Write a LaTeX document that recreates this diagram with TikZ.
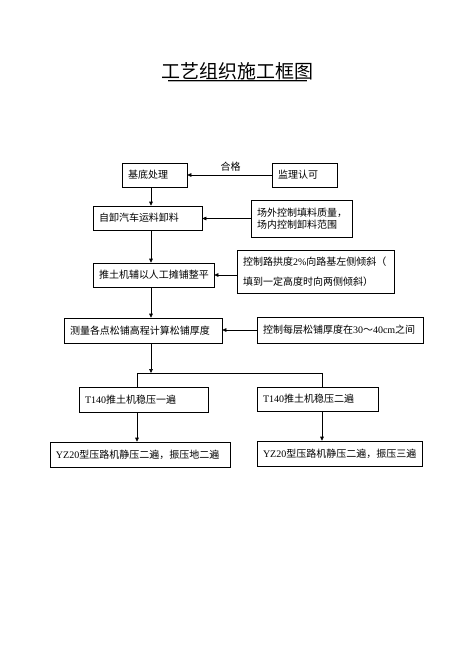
\documentclass[tikz,border=0pt]{standalone}
\usepackage{fontspec}
\setmainfont{Liberation Serif}
\newfontfamily\cjk{Noto Sans CJK SC}
\usetikzlibrary{arrows.meta}
\newcommand\lt[1]{{\rmfamily #1}}
\begin{document}
\begin{tikzpicture}[x=1pt,y=-1pt,
  bx/.style={draw,line width=0.6pt,inner xsep=6pt,inner ysep=0pt,align=left,
    font=\cjk\fontsize{10}{12}\selectfont},
  ln/.style={line width=0.6pt},
  arr/.style={line width=0.6pt,-{Triangle[length=4pt,width=3.6pt]}}]
\useasboundingbox[fill=white] (0,0) rectangle (474,670);
% title
\node (title) at (237.5,71) {\cjk\fontsize{19}{22}\selectfont 工艺组织施工框图};
\coordinate (tl) at (168,80.5);
\coordinate (tr) at (307,80.5);
\draw[line width=0.7pt] (tl) -- (tr);
\draw[line width=0.7pt,gray!60] ([yshift=-1.2pt]tl) -- ([yshift=-1.2pt]tr);
% boxes
\node[bx,text width=53pt,minimum height=24pt] (A) at (154.5,175) {基底处理};
\node[bx,text width=53pt,minimum height=24pt] (B) at (304.5,175) {监理认可};
\node[bx,text width=97pt,minimum height=24pt] (C) at (147.5,218) {自卸汽车运料卸料};
\node[bx,text width=89pt,minimum height=37pt] (D) at (301.5,218.5) {场外控制填料质量，\\场内控制卸料范围};
\node[bx,text width=109pt,minimum height=24pt] (E) at (153.5,275) {推土机辅以人工摊铺整平};
\node[bx,text width=145pt,minimum height=43pt,font=\cjk\fontsize{10}{20}\selectfont] (F) at (315.5,271.5) {控制路拱度\lt{2\%}向路基左侧倾斜（\\填到一定高度时向两侧倾斜）};
\node[bx,text width=146pt,minimum height=25pt] (G) at (143,330.5) {测量各点松铺高程计算松铺厚度};
\node[bx,text width=154pt,minimum height=26pt] (H) at (340,330) {控制每层松铺厚度在\lt{30}～\lt{40cm}之间};
\node[bx,text width=117pt,minimum height=25pt] (I) at (143.5,399.5) {\lt{T140}推土机稳压一遍};
\node[bx,text width=109pt,minimum height=24pt] (J) at (317.5,399) {\lt{T140}推土机稳压二遍};
\node[bx,text width=168pt,minimum height=25pt] (K) at (140,454.5) {\lt{YZ20}型压路机静压二遍，振压地二遍};
\node[bx,text width=153pt,minimum height=25pt] (L) at (339.5,453.5) {\lt{YZ20}型压路机静压二遍，振压三遍};
\node[font=\cjk\fontsize{10}{12}\selectfont] (hg) at (230.5,166.5) {合格};
% connectors
\coordinate (sp) at (151,0);
\coordinate (sl) at (137,0);
\coordinate (sr) at (322,0);
\coordinate (split) at (151,373);
\draw[arr] (B.west) -- (B.west -| A.east);
\draw[arr] (D.west) -- (D.west -| C.east);
\draw[arr] (F.west |- E.east) -- (E.east);
\draw[arr] (H.west) -- (H.west -| G.east);
\draw[arr] (A.south -| sp) -- (C.north -| sp);
\draw[arr] (C.south -| sp) -- (E.north -| sp);
\draw[arr] (E.south -| sp) -- (G.north -| sp);
\draw[arr] (G.south -| sp) -- (split);
\draw[ln] (I.north -| sl) -- (split -| sl) -- (split -| sr) -- (J.north -| sr);
\draw[arr] (I.south -| sl) -- (K.north -| sl);
\draw[arr] (J.south -| sr) -- (L.north -| sr);
\end{tikzpicture}
\end{document}
